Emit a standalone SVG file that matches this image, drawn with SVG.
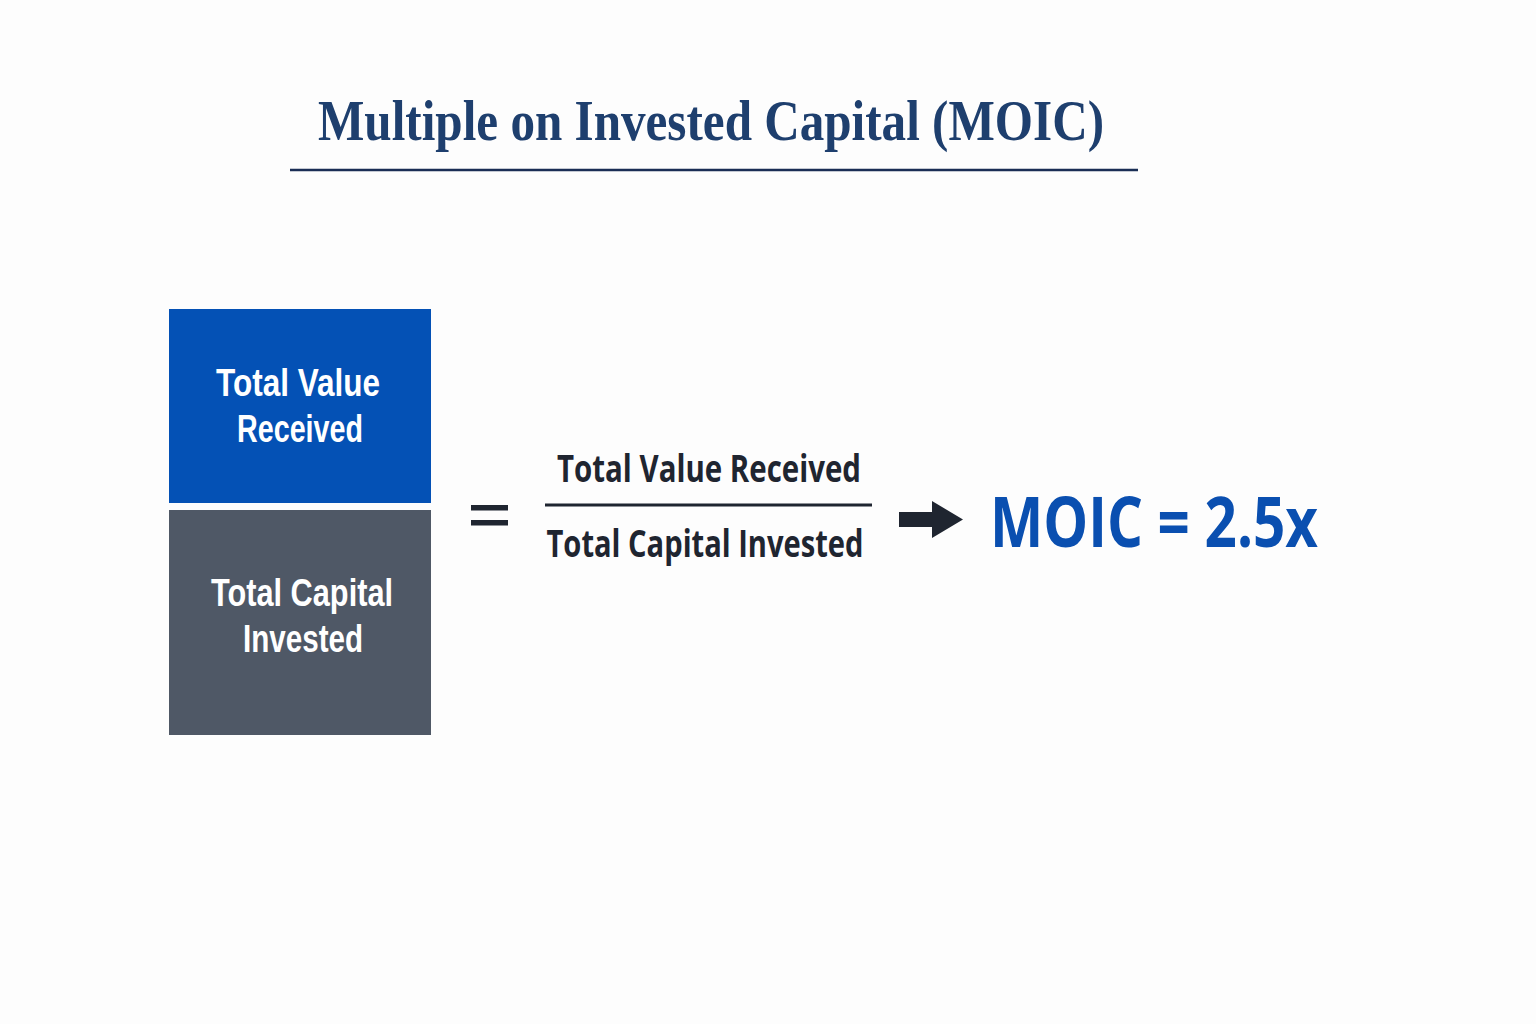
<svg xmlns="http://www.w3.org/2000/svg" width="1536" height="1024" viewBox="0 0 1536 1024">
<style>
.box-text{font-family:"Liberation Sans","Open Sans",sans-serif;font-weight:700;font-size:39px;fill:#ffffff;text-anchor:middle}
.frac{font-family:"Open Sans","Liberation Sans",sans-serif;font-weight:700;font-size:37px;fill:#1f2530;text-anchor:middle}
.result{font-family:"Open Sans","Liberation Sans",sans-serif;font-weight:700;font-size:70px;fill:#0a4fb0}
.title{font-family:"Liberation Serif","DejaVu Serif",serif;font-weight:700;font-size:56px;fill:#1e3f6e}
</style>
<rect width="1536" height="1024" fill="#fdfdfd"/>
<g id="title">
<text class="title" x="318" y="140" textLength="786" lengthAdjust="spacingAndGlyphs">Multiple on Invested Capital (MOIC)</text>
<line x1="290" y1="170" x2="1138" y2="170" stroke="#1a2e55" stroke-width="2.5"/>
</g>
<g id="node-value">
<rect x="169" y="309" width="262" height="194" fill="#0451b5"/>
<text class="box-text" x="298" y="396" textLength="164" lengthAdjust="spacingAndGlyphs">Total Value</text>
<text class="box-text" x="300" y="442" textLength="126" lengthAdjust="spacingAndGlyphs">Received</text>
</g>
<g id="node-capital">
<rect x="169" y="510" width="262" height="225" fill="#4f5866"/>
<text class="box-text" x="302" y="606" textLength="182" lengthAdjust="spacingAndGlyphs">Total Capital</text>
<text class="box-text" x="303" y="652" textLength="120" lengthAdjust="spacingAndGlyphs">Invested</text>
</g>
<g id="equals">
<rect x="471" y="505" width="37" height="5.5" fill="#1f2530"/>
<rect x="471" y="520" width="37" height="5.5" fill="#1f2530"/>
</g>
<g id="fraction">
<text class="frac" x="709" y="482" textLength="304" lengthAdjust="spacingAndGlyphs">Total Value Received</text>
<line x1="545" y1="505" x2="872" y2="505" stroke="#1f2530" stroke-width="3"/>
<text class="frac" x="705" y="557" textLength="317" lengthAdjust="spacingAndGlyphs">Total Capital Invested</text>
</g>
<g id="connectors">
<polygon points="899,512 932,512 932,501 963,519.5 932,538 932,527 899,527" fill="#1f2530"/>
</g>
<g id="result">
<text class="result" x="990" y="547" textLength="328" lengthAdjust="spacingAndGlyphs">MOIC = 2.5x</text>
</g>
</svg>
